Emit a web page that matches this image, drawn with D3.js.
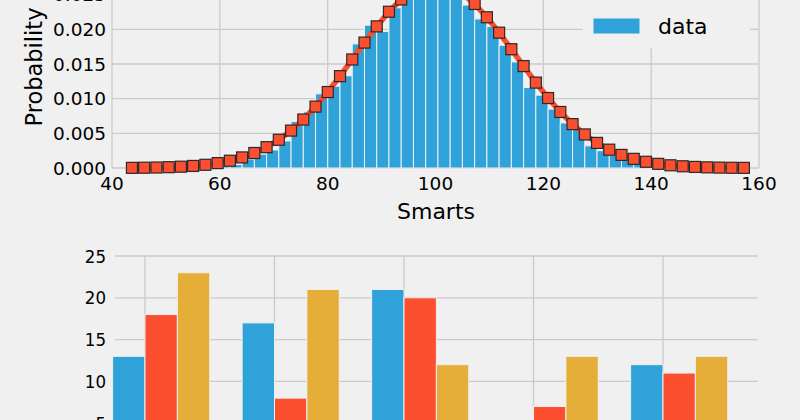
<!DOCTYPE html>
<html><head><meta charset="utf-8">
<script src="https://cdn.jsdelivr.net/npm/d3@7"></script>
<style>body{margin:0;background:#f0f0f0}svg{display:block;font-family:"DejaVu Sans",sans-serif}</style>
</head><body><svg id="c" width="800" height="420"></svg>
<script>
// histogram bin edges (first edge, width), densities, pdf at edges
const binStart = 43.7, binWidth = 2.27;
const density = [0.00002,0,0.00005,0.00005,0.0001,0.0001,0.0002,0.0003,0.0005,0.0013,
 0.0020,0.0026,0.0039,0.0067,0.0081,0.0107,0.0118,0.0133,0.0179,0.0206,
 0.0197,0.0231,0.0255,0.0262,0.0270,0.0265,0.0258,0.0235,0.0215,0.0204,
 0.0177,0.0153,0.0116,0.0105,0.0085,0.0065,0.0056,0.0032,0.0025,0.0019,
 0.0012,0.0007,0.0004,0.0003,0.0002,0.0001,0.0001,0.00005,0.00003,0.00002];
const pdfVals = [0.0000232,0.0000405,0.0000690,0.000115,0.000187,0.000298,0.000464,0.000706,0.001049,0.001525,
 0.002164,0.003003,0.004069,0.005396,0.006992,0.008854,0.010955,0.013248,0.015655,0.018088,
 0.020426,0.02254,0.02431,0.02563,0.02640,0.02658,0.02616,0.02517,0.02366,0.02174,
 0.01952,0.01713,0.01470,0.01232,0.01009,0.00808,0.00633,0.00484,0.00362,0.002645,
 0.001888,0.001319,0.000899,0.000600,0.000391,0.000249,0.000155,0.0000942,0.0000561,0.0000326,0.0000185];
const xTicksTop = [40,60,80,100,120,140,160];
const yTicksTop = [0,0.005,0.010,0.015,0.020,0.025,0.030];
// grouped bars
const groups = [0,1,2,3,4];
const seriesA = [13,17,21,4,12];
const seriesB = [18,8,20,7,11];
const seriesC = [23,21,12,13,13];
const yTicksBot = [5,10,15,20,25];

const svg = d3.select("#c");
const bg="#f0f0f0", grid="#cbcbcb", C=["#30a2da","#fc4f30","#e5ae38"];

// ---- top
const x = d3.scaleLinear().domain([40,160]).range([112,759]);
const y = d3.scaleLinear().domain([0,0.030]).range([168,-40]);
const gTop = svg.append("g");
gTop.selectAll(".gx").data(xTicksTop).join("line").attr("x1",d=>x(d)).attr("x2",d=>x(d)).attr("y1",y(0.03)).attr("y2",168).attr("stroke",grid).attr("stroke-width",1.3);
gTop.selectAll(".gy").data(yTicksTop).join("line").attr("x1",112).attr("x2",759).attr("y1",d=>y(d)).attr("y2",d=>y(d)).attr("stroke",grid).attr("stroke-width",1.3);
gTop.selectAll(".b").data(density).join("rect")
 .attr("x",(d,i)=>x(binStart+i*binWidth)).attr("width",x(binWidth)-x(0))
 .attr("y",d=>y(d)).attr("height",d=>y(0)-y(d)).attr("fill",C[0]).attr("stroke",bg).attr("stroke-width",1);
const edges = pdfVals.map((v,i)=>[binStart+i*binWidth,v]);
gTop.append("path").datum(edges).attr("d",d3.line().x(d=>x(d[0])).y(d=>y(d[1]))).attr("fill","none").attr("stroke",C[1]).attr("stroke-width",5.5);
gTop.selectAll(".m").data(edges).join("rect").attr("x",d=>x(d[0])-5.5).attr("y",d=>y(d[1])-5.5).attr("width",11).attr("height",11)
 .attr("fill",C[1]).attr("stroke","#2a2a2a").attr("stroke-width",1.2);
// legend
gTop.append("rect").attr("x",583).attr("y",-5).attr("width",167).attr("height",53).attr("fill",bg);
gTop.append("rect").attr("x",593).attr("y",18).attr("width",47).attr("height",16).attr("fill",C[0]).attr("stroke",bg);
gTop.append("text").attr("x",658).attr("y",34).attr("font-size",22).text("data");
// ticks
gTop.selectAll(".ty").data(yTicksTop).join("text").attr("x",106).attr("y",d=>y(d)).attr("dy","0.36em").attr("text-anchor","end").attr("font-size",18.5).text(d=>d.toFixed(3));
gTop.selectAll(".tx").data(xTicksTop).join("text").attr("x",d=>x(d)).attr("y",190).attr("text-anchor","middle").attr("font-size",18.5).text(d=>d);
gTop.append("text").attr("x",436).attr("y",219).attr("text-anchor","middle").attr("font-size",22).text("Smarts");
gTop.append("text").attr("transform","translate(42,67) rotate(-90)").attr("text-anchor","middle").attr("font-size",22.5).text("Probability");

// ---- bottom
const xb = d3.scaleLinear().domain([0,4]).range([145,663]);
const yb = d3.scaleLinear().domain([0,25]).range([465,256]);
const w = xb(0.25)-xb(0);
const gBot = svg.append("g");
gBot.selectAll(".gx").data(groups).join("line").attr("x1",d=>xb(d)).attr("x2",d=>xb(d)).attr("y1",256).attr("y2",420).attr("stroke",grid).attr("stroke-width",1.3);
gBot.selectAll(".gy").data(yTicksBot).join("line").attr("x1",115).attr("x2",758).attr("y1",d=>yb(d)).attr("y2",d=>yb(d)).attr("stroke",grid).attr("stroke-width",1.3);
[seriesA,seriesB,seriesC].forEach((s,k)=>{
 gBot.selectAll(".s"+k).data(s).join("rect").attr("x",(d,i)=>xb(groups[i]+(k-1)*0.25)).attr("width",w)
  .attr("y",d=>yb(d)).attr("height",d=>yb(0)-yb(d)).attr("fill",C[k]).attr("stroke",bg).attr("stroke-width",1);
});
gBot.selectAll(".ty").data(yTicksBot).join("text").attr("x",106).attr("y",d=>yb(d)).attr("dy","0.36em").attr("text-anchor","end").attr("font-size",18.5).attr("font-family","DejaVu Sans Condensed, DejaVu Sans").text(d=>d);
</script></body></html>
